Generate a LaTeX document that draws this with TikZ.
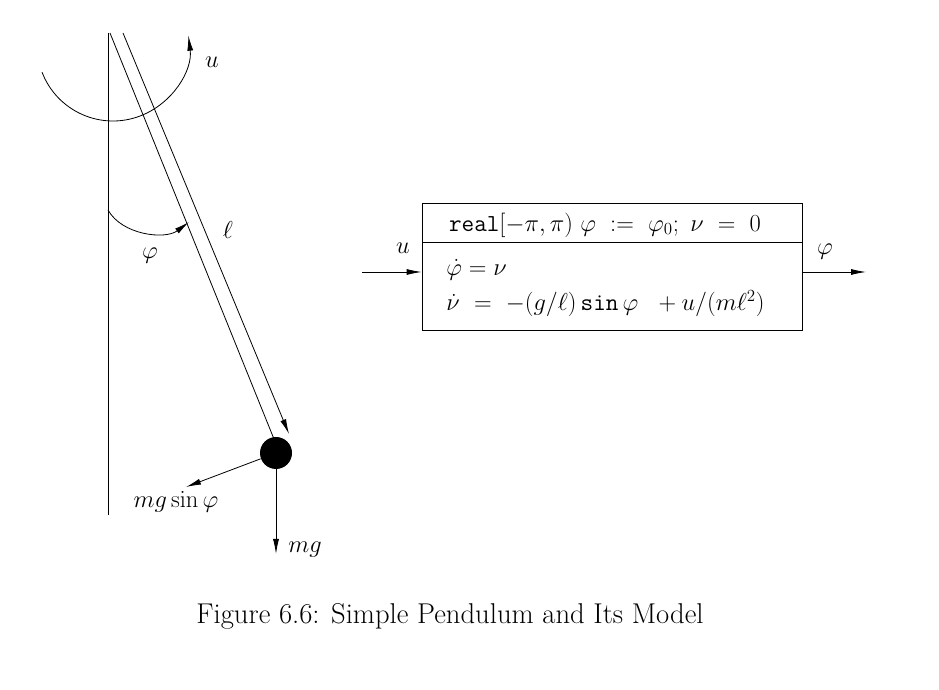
\documentclass[tikz,border=0pt]{standalone}
\usetikzlibrary{arrows.meta}
\begin{document}
\begin{tikzpicture}[x=1pt,y=1pt,line width=0.8pt,
  arr/.style={-{Latex[length=15pt,width=6pt]}},
  txt/.style={font=\huge, inner sep=0pt, scale=1.18}]
\useasboundingbox (0,0) rectangle (939,690);
% vertical reference line
\coordinate (vtop) at (108,657);
\coordinate (vbot) at (108,175);
\draw (vtop) -- (vbot);
% rod
\coordinate (r1a) at (110,657);
\coordinate (r1b) at (276,246);
\coordinate (r2a) at (123,657);
\coordinate (r2b) at (289,256);
\draw (r1a) -- (r1b);
\draw[arr] (r2a) -- (r2b);
% bob
\node[circle,fill=black,minimum size=32pt,inner sep=0pt] (bob) at (276,237) {};
% torque arc
\draw[arr] (113,645) ++(201:76) arc[start angle=201,end angle=367,radius=76];
\node[txt] (ulab) at (212,628) {$u$};
% angle arc
\coordinate (pa) at (108,480);
\coordinate (pb) at (189,468);
\draw[arr] (pa) .. controls (122,455) and (165,450) .. (pb);
\node[txt] (phil) at (150,434) {$\varphi$};
\node[txt] (ell) at (228,460) {$\ell$};
% forces
\coordinate (f1) at (186,203);
\draw[arr] (bob) -- (f1);
\node[txt] (mgs) at (176,188) {$mg\sin\varphi$};
\coordinate (f2) at (276,136);
\draw[arr] (bob.south) -- (f2);
\node[txt] (mg) at (305,140) {$mg$};
% block
\node[draw,minimum width=380pt,minimum height=127pt,inner sep=0pt] (blk) at (612,423.5) {};
\coordinate (dl) at (422,448);
\coordinate (dr) at (802,448);
\draw (dl) -- (dr);
\node[txt] (hdr) at (605,465) {\texttt{real}$[-\pi,\pi)\ \varphi\ :=\ \varphi_0;\ \nu\ =\ 0$};
\node[txt,anchor=west] (eq1) at (446,420) {$\dot\varphi = \nu$};
\node[txt,anchor=west] (eq2) at (446,386) {$\dot\nu\ =\ -(g/\ell)\,\texttt{sin}\,\varphi\ \ +u/(m\ell^2)$};
\coordinate (inp) at (362,418);
\draw[arr] (inp) -- (blk.west |- inp);
\node[txt] (ui) at (403,442) {$u$};
\coordinate (outp) at (866,418);
\draw[arr] (blk.east |- outp) -- (outp);
\node[txt] (po) at (825,438) {$\varphi$};
% caption
\node[txt,scale=1.17] (cap) at (450,74) {Figure 6.6: Simple Pendulum and Its Model};
\end{tikzpicture}
\end{document}
